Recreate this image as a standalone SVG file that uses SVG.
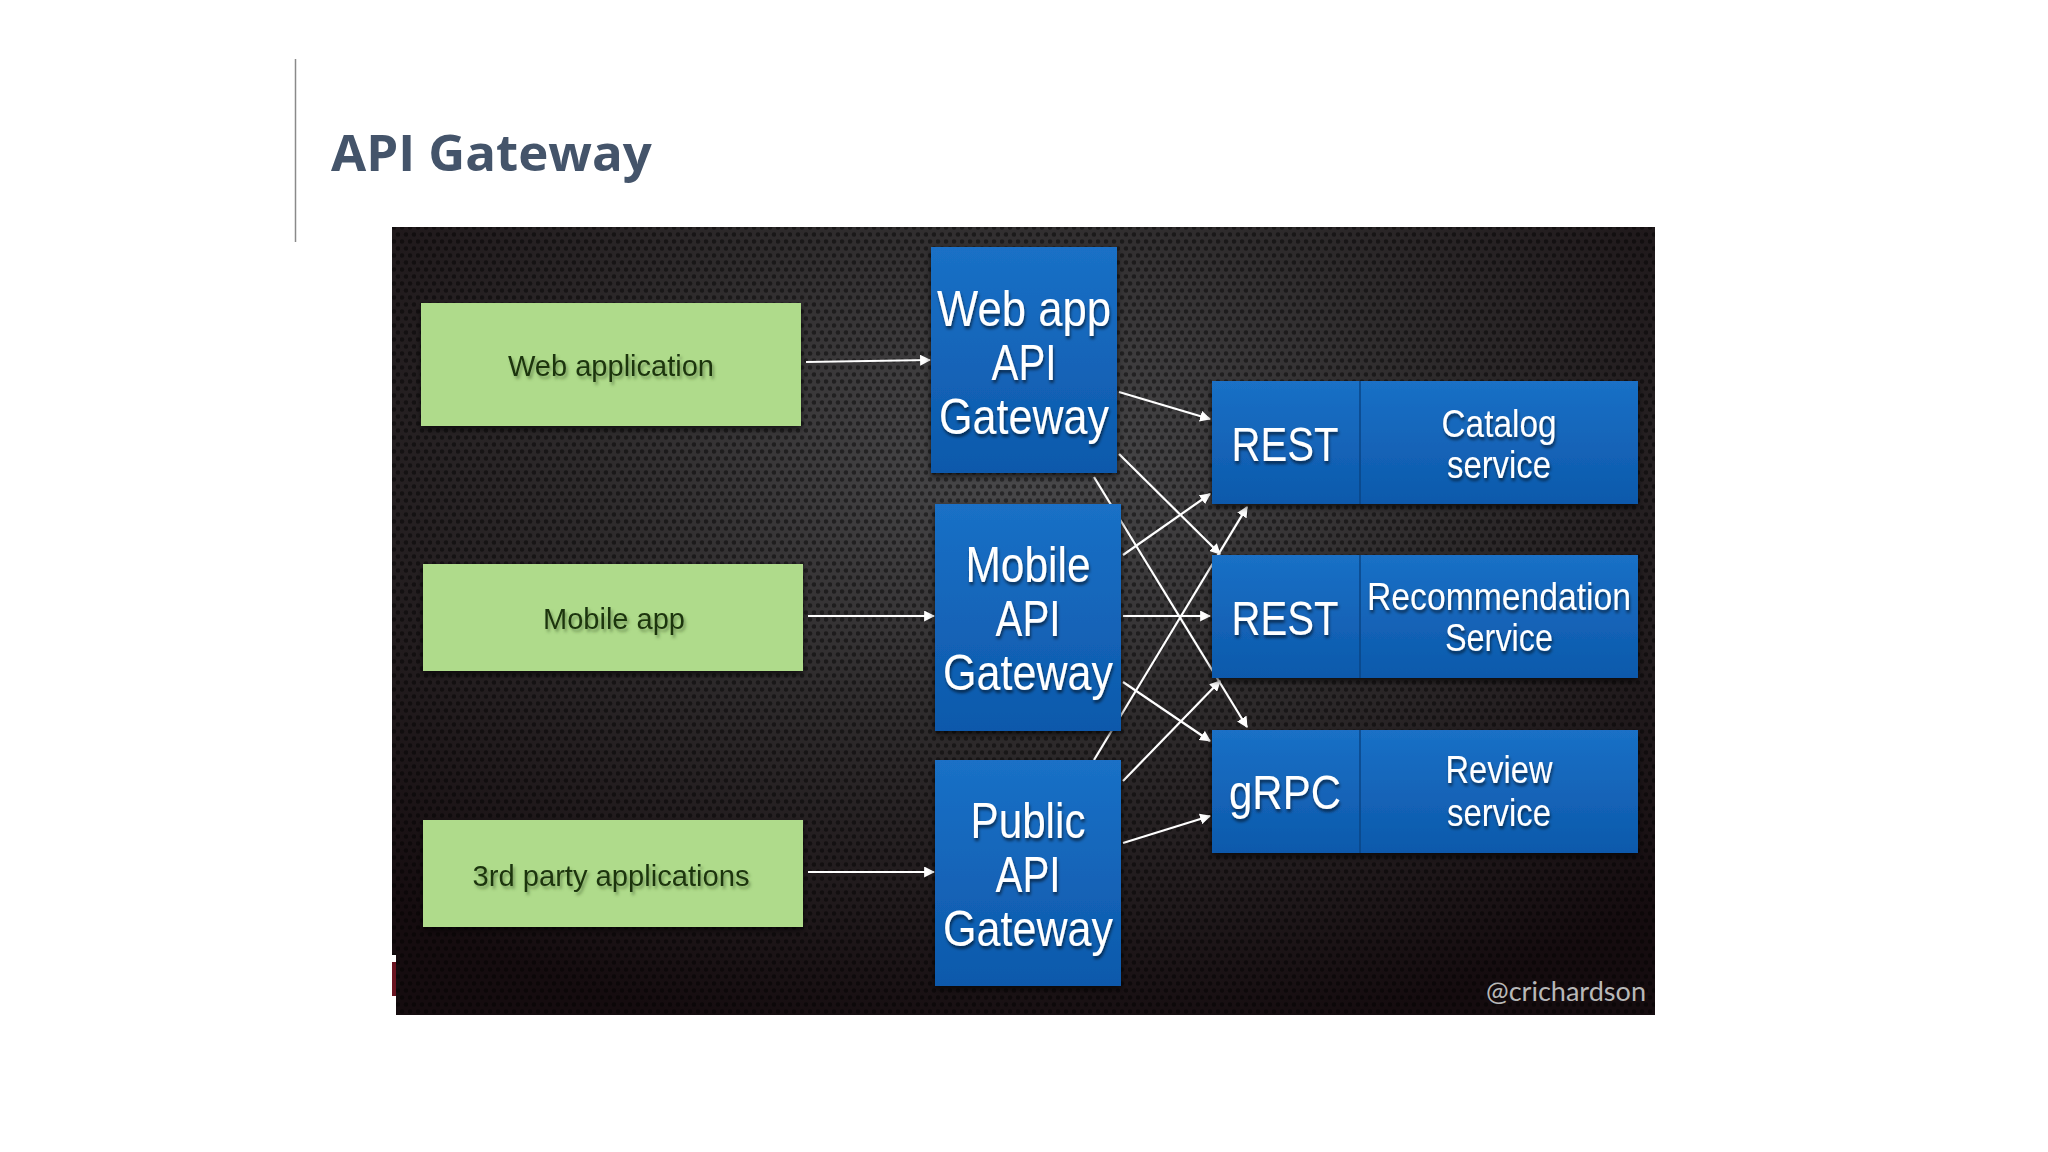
<svg xmlns="http://www.w3.org/2000/svg" width="2048" height="1152" viewBox="0 0 2048 1152">
<defs>
<style>
.title{font-family:"Open Sans","Liberation Sans",sans-serif;font-weight:700;font-size:51px;fill:#44546a}
.gtext{font-family:"Liberation Sans",Arial,sans-serif;font-size:30px;fill:#1c3410;text-anchor:middle}
.btext{font-family:"Liberation Sans",Arial,sans-serif;font-size:50px;fill:#ffffff;text-anchor:middle}
.ptext{font-family:"Liberation Sans",Arial,sans-serif;font-size:48px;fill:#ffffff;text-anchor:middle}
.stext{font-family:"Liberation Sans",Arial,sans-serif;font-size:38px;fill:#ffffff;text-anchor:middle}
.wm{font-family:"Lato","Open Sans",sans-serif;font-size:26px;fill:#b8b8b8}
.green{fill:#afdb8b}
.blue{fill:url(#blueGrad)}
.conn{stroke:#ffffff;stroke-width:2.2;fill:none;marker-end:url(#arrow)}
</style>
<radialGradient id="bgGrad" cx="0.5" cy="0.3" r="0.75">
<stop offset="0" stop-color="#4a4a4c"/>
<stop offset="0.45" stop-color="#2e2b2c"/>
<stop offset="1" stop-color="#150c0f"/>
</radialGradient>
<linearGradient id="blueGrad" x1="0" y1="0" x2="0" y2="1">
<stop offset="0" stop-color="#1a70c6"/>
<stop offset="1" stop-color="#0d59ab"/>
</linearGradient>
<pattern id="dots" width="8" height="14" patternUnits="userSpaceOnUse">
<circle cx="2" cy="3.5" r="2.3" fill="#000" fill-opacity="0.45"/>
<circle cx="6" cy="10.5" r="2.3" fill="#000" fill-opacity="0.45"/>
</pattern>
<filter id="boxShadow" x="-10%" y="-10%" width="120%" height="130%">
<feDropShadow dx="0" dy="3" stdDeviation="3" flood-color="#000" flood-opacity="0.7"/>
</filter>
<filter id="txtShadow" x="-10%" y="-20%" width="120%" height="150%">
<feDropShadow dx="1" dy="3" stdDeviation="1.5" flood-color="#000" flood-opacity="0.55"/>
</filter>
<filter id="gShadow" x="-10%" y="-20%" width="120%" height="150%">
<feDropShadow dx="2" dy="3" stdDeviation="1.5" flood-color="#3c5a28" flood-opacity="0.5"/>
</filter>
<marker id="arrow" viewBox="0 0 10 10" refX="9" refY="5" markerWidth="5" markerHeight="5" markerUnits="strokeWidth" orient="auto">
<path d="M0,0 L10,5 L0,10 Z" fill="#ffffff"/>
</marker>
</defs>

<rect width="2048" height="1152" fill="#ffffff"/>

<g id="header">
<line x1="295.5" y1="59" x2="295.5" y2="242" stroke="#8a8a8a" stroke-width="1.5"/>
<text class="title" x="331" y="171">API Gateway</text>
</g>

<g id="background">
<rect x="392" y="227" width="1263" height="788" fill="url(#bgGrad)"/>
<rect x="392" y="227" width="1263" height="788" fill="url(#dots)"/>
<rect x="391" y="955" width="5" height="62" fill="#ffffff"/>
<rect x="392" y="962" width="4" height="34" fill="#6a1420"/>
</g>

<g id="connectors">
<line class="conn" x1="806" y1="362" x2="930" y2="360"/>
<line class="conn" x1="808" y1="616" x2="934" y2="616"/>
<line class="conn" x1="808" y1="872" x2="934" y2="872"/>
<line class="conn" x1="1119" y1="392" x2="1210" y2="419"/>
<line class="conn" x1="1119" y1="454" x2="1220" y2="554"/>
<line class="conn" x1="1094" y1="477" x2="1247" y2="727"/>
<line class="conn" x1="1123" y1="555" x2="1210" y2="494"/>
<line class="conn" x1="1123" y1="616" x2="1210" y2="616"/>
<line class="conn" x1="1123" y1="682" x2="1210" y2="741"/>
<line class="conn" x1="1094" y1="760" x2="1247" y2="507"/>
<line class="conn" x1="1123" y1="781" x2="1220" y2="681"/>
<line class="conn" x1="1123" y1="843" x2="1210" y2="816"/>
</g>

<g id="web-application">
<rect class="green" x="421" y="303" width="380" height="123" filter="url(#boxShadow)"/>
<text class="gtext" x="611" y="376" textLength="206" lengthAdjust="spacingAndGlyphs" filter="url(#gShadow)">Web application</text>
</g>
<g id="mobile-app">
<rect class="green" x="423" y="564" width="380" height="107" filter="url(#boxShadow)"/>
<text class="gtext" x="614" y="629" textLength="142" lengthAdjust="spacingAndGlyphs" filter="url(#gShadow)">Mobile app</text>
</g>
<g id="third-party-applications">
<rect class="green" x="423" y="820" width="380" height="107" filter="url(#boxShadow)"/>
<text class="gtext" x="611" y="886" textLength="277" lengthAdjust="spacingAndGlyphs" filter="url(#gShadow)">3rd party applications</text>
</g>

<g id="web-app-api-gateway">
<rect class="blue" x="931" y="247" width="186" height="226" filter="url(#boxShadow)"/>
<g filter="url(#txtShadow)">
<text class="btext" x="1024" y="326" textLength="174" lengthAdjust="spacingAndGlyphs">Web app</text>
<text class="btext" x="1024" y="380" textLength="65" lengthAdjust="spacingAndGlyphs">API</text>
<text class="btext" x="1024" y="434" textLength="170" lengthAdjust="spacingAndGlyphs">Gateway</text>
</g>
</g>
<g id="mobile-api-gateway">
<rect class="blue" x="935" y="504" width="186" height="227" filter="url(#boxShadow)"/>
<g filter="url(#txtShadow)">
<text class="btext" x="1028" y="582" textLength="125" lengthAdjust="spacingAndGlyphs">Mobile</text>
<text class="btext" x="1028" y="636" textLength="65" lengthAdjust="spacingAndGlyphs">API</text>
<text class="btext" x="1028" y="690" textLength="170" lengthAdjust="spacingAndGlyphs">Gateway</text>
</g>
</g>
<g id="public-api-gateway">
<rect class="blue" x="935" y="760" width="186" height="226" filter="url(#boxShadow)"/>
<g filter="url(#txtShadow)">
<text class="btext" x="1028" y="838" textLength="115" lengthAdjust="spacingAndGlyphs">Public</text>
<text class="btext" x="1028" y="892" textLength="65" lengthAdjust="spacingAndGlyphs">API</text>
<text class="btext" x="1028" y="946" textLength="170" lengthAdjust="spacingAndGlyphs">Gateway</text>
</g>
</g>

<g id="catalog-service">
<rect class="blue" x="1212" y="381" width="426" height="123" filter="url(#boxShadow)"/>
<line x1="1360" y1="381" x2="1360" y2="504" stroke="#0a4585" stroke-width="1.5"/>
<g filter="url(#txtShadow)">
<text class="ptext" x="1285" y="461" textLength="107" lengthAdjust="spacingAndGlyphs">REST</text>
<text class="stext" x="1499" y="437" textLength="115" lengthAdjust="spacingAndGlyphs">Catalog</text>
<text class="stext" x="1499" y="478" textLength="104" lengthAdjust="spacingAndGlyphs">service</text>
</g>
</g>
<g id="recommendation-service">
<rect class="blue" x="1212" y="555" width="426" height="123" filter="url(#boxShadow)"/>
<line x1="1360" y1="555" x2="1360" y2="678" stroke="#0a4585" stroke-width="1.5"/>
<g filter="url(#txtShadow)">
<text class="ptext" x="1285" y="635" textLength="107" lengthAdjust="spacingAndGlyphs">REST</text>
<text class="stext" x="1499" y="610" textLength="264" lengthAdjust="spacingAndGlyphs">Recommendation</text>
<text class="stext" x="1499" y="651" textLength="108" lengthAdjust="spacingAndGlyphs">Service</text>
</g>
</g>
<g id="review-service">
<rect class="blue" x="1212" y="730" width="426" height="123" filter="url(#boxShadow)"/>
<line x1="1360" y1="730" x2="1360" y2="853" stroke="#0a4585" stroke-width="1.5"/>
<g filter="url(#txtShadow)">
<text class="ptext" x="1285" y="809" textLength="112" lengthAdjust="spacingAndGlyphs">gRPC</text>
<text class="stext" x="1499" y="783" textLength="107" lengthAdjust="spacingAndGlyphs">Review</text>
<text class="stext" x="1499" y="826" textLength="104" lengthAdjust="spacingAndGlyphs">service</text>
</g>
</g>

<g id="watermark">
<text class="wm" x="1486" y="1001" textLength="160" lengthAdjust="spacingAndGlyphs">@crichardson</text>
</g>
</svg>
